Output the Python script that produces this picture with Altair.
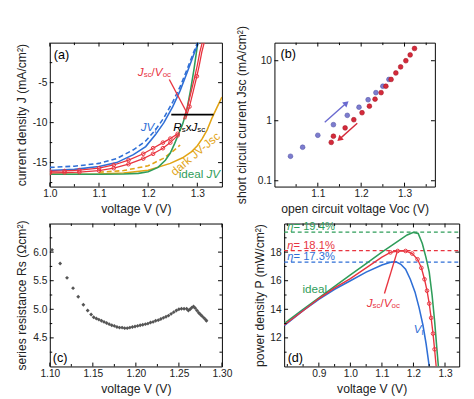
import altair as alt
import pandas as pd

FONT = "Liberation Sans"
TXT = "#222222"
BLUE = "#2f6fd6"
GREEN = "#2f9d5a"
RED = "#e8343f"
GOLD = "#e2a416"
PBLUE = "#7c7cce"
PRED = "#d42a3a"
GRAY = "#555555"

# ---------------- panel (a) data ----------------
a_v_blue = [1.0, 1.05, 1.1, 1.136, 1.17, 1.195, 1.215, 1.232, 1.25, 1.265, 1.28, 1.292, 1.302]
a_j_blue = [-16.0, -15.85, -15.5, -15.0, -14.0, -13.0, -11.5, -10.0, -8.0, -6.0, -3.6, -1.6, 0.0]
a_v_blue_d = [1.0, 1.05, 1.1, 1.136, 1.17, 1.195, 1.215, 1.232, 1.25, 1.265, 1.28, 1.29, 1.30]
a_j_blue_d = [-15.6, -15.45, -15.1, -14.5, -13.4, -12.3, -10.9, -9.4, -7.4, -5.5, -3.2, -1.6, 0.0]
a_v_green = [1.0, 1.1, 1.15, 1.18, 1.2, 1.22, 1.235, 1.245, 1.254, 1.262, 1.27, 1.278, 1.286, 1.293, 1.301]
a_j_green = [-16.45, -16.45, -16.42, -16.35, -16.15, -15.6, -14.7, -13.8, -12.6, -11.4, -10.2, -8.6, -6.0, -3.4, 0.0]
a_v_gold = [1.0, 1.1, 1.15, 1.2, 1.245, 1.27, 1.287, 1.3, 1.31, 1.32, 1.33, 1.34, 1.35]
a_j_gold = [-16.45, -16.42, -16.3, -15.95, -15.1, -14.4, -13.7, -12.9, -12.0, -10.9, -9.4, -8.1, -6.8]
a_v_gold_d = [1.1, 1.15, 1.2, 1.23, 1.25, 1.265]
a_j_gold_d = [-16.2, -16.0, -15.4, -14.5, -13.6, -12.8]
a_v_red = [1.0, 1.03, 1.06, 1.1, 1.13, 1.16, 1.19, 1.21, 1.23, 1.245, 1.26]
a_j_red1 = [-16.1, -16.05, -15.95, -15.7, -15.3, -14.7, -13.9, -13.2, -12.5, -12.0, -11.4]
a_j_red2 = [-16.3, -16.25, -16.2, -16.0, -15.7, -15.2, -14.5, -13.9, -13.2, -12.5, -11.6]
a_v_red_up1 = [1.272, 1.28, 1.288, 1.295, 1.30, 1.305, 1.31]
a_v_red_up2 = [1.276, 1.284, 1.292, 1.299, 1.304, 1.309, 1.314]
a_j_red_up = [-9.6, -8.0, -6.0, -4.2, -2.8, -1.2, 0.0]
a_rs_v = [1.247, 1.333]
a_rs_j = [-9.0, -9.0]
a_ptr_v = [1.243, 1.279]
a_ptr_j = [-4.6, -8.8]

# ---------------- panel (b) data ----------------
b_v_blue = [1.037, 1.065, 1.10, 1.136, 1.168, 1.195, 1.216, 1.234, 1.250, 1.264]
b_j_blue = [0.256, 0.362, 0.573, 0.86, 1.23, 1.68, 2.24, 2.94, 3.76, 4.88]
b_v_red = [1.131, 1.136, 1.163, 1.183, 1.202, 1.219, 1.232, 1.246, 1.257, 1.269, 1.280, 1.291, 1.303, 1.313, 1.323]
b_j_red = [0.436, 0.552, 0.76, 1.04, 1.36, 1.75, 2.29, 2.94, 3.76, 4.88, 6.25, 7.9, 10.0, 12.5, 16.0]
b_arrow_blue_v = [1.116, 1.166]
b_arrow_blue_j = [0.94, 1.97]
b_arrow_red_v = [1.191, 1.150]
b_arrow_red_j = [0.905, 0.494]

# ---------------- panel (c) data ----------------
c_v = [1.1026, 1.112, 1.120, 1.127, 1.133, 1.139, 1.144, 1.148,
       1.151, 1.154, 1.157, 1.160, 1.163, 1.166, 1.169, 1.172, 1.175, 1.178,
       1.181, 1.184, 1.187, 1.190, 1.193, 1.196, 1.199, 1.202, 1.205, 1.208,
       1.211, 1.214, 1.217, 1.220, 1.223, 1.226, 1.229, 1.232, 1.235, 1.238,
       1.241, 1.244, 1.247, 1.250, 1.253, 1.256, 1.259, 1.261, 1.263, 1.265,
       1.267, 1.269, 1.271, 1.273, 1.275, 1.277, 1.279, 1.281, 1.282]
c_rs = [6.04, 5.80, 5.55, 5.37, 5.22, 5.08, 4.98, 4.91,
        4.86, 4.84, 4.82, 4.80, 4.78, 4.76, 4.74, 4.72, 4.71, 4.69,
        4.68, 4.68, 4.67, 4.67, 4.68, 4.69, 4.70, 4.71, 4.72, 4.73,
        4.74, 4.75, 4.77, 4.78, 4.80, 4.81, 4.83, 4.85, 4.87, 4.89,
        4.92, 4.95, 4.98, 5.00, 5.01, 5.01, 5.01, 4.98, 5.00, 5.03,
        5.05, 5.02, 4.98, 4.94, 4.91, 4.88, 4.85, 4.82, 4.80]

# ---------------- panel (d) data ----------------
d_v_green = [0.79, 0.85, 0.9, 0.95, 1.0, 1.05, 1.1, 1.15, 1.18, 1.2, 1.215, 1.228, 1.24, 1.25, 1.259, 1.267, 1.274, 1.279]
d_p_green = [13.0, 14.0, 14.8, 15.6, 16.4, 17.2, 18.0, 18.75, 19.2, 19.38, 19.3, 18.6, 17.6, 16.6, 15.0, 13.2, 11.3, 10.0]
d_v_blue = [0.79, 0.85, 0.9, 0.95, 1.0, 1.05, 1.1, 1.13, 1.145, 1.16, 1.175, 1.19, 1.205, 1.218, 1.23, 1.24, 1.25]
d_p_blue = [12.85, 13.9, 14.7, 15.4, 16.0, 16.6, 17.1, 17.3, 17.32, 17.15, 16.8, 16.1, 15.2, 14.1, 12.9, 11.6, 10.0]
d_v_red = [0.79, 0.85, 0.9, 0.95, 1.0, 1.05, 1.1, 1.127, 1.15, 1.175, 1.196, 1.213, 1.225, 1.235, 1.243, 1.25, 1.256, 1.262, 1.267, 1.272]
d_p_red = [12.9, 13.9, 14.75, 15.5, 16.15, 16.9, 17.65, 17.98, 18.08, 18.08, 17.9, 17.5, 16.9, 16.1, 15.3, 14.4, 13.4, 12.3, 11.2, 10.0]
d_red_marker_v = [1.127, 1.15, 1.175, 1.196, 1.213, 1.225, 1.235, 1.243, 1.25, 1.256, 1.262, 1.267]
d_red_marker_p = [17.98, 18.08, 18.08, 17.9, 17.5, 16.9, 16.1, 15.3, 14.4, 13.4, 12.3, 11.2]
d_eta = [19.4, 18.1, 17.3]
d_eta_labels = [" = 19.4%", " = 18.1%", " = 17.3%"]
d_ptr_v = [1.108, 1.148]
d_ptr_p = [15.1, 18.0]


def df(**cols):
    return pd.DataFrame(cols)


W_CH = {"i": .222, "l": .222, "j": .222, "t": .278, "f": .278, " ": .278, "/": .278, ".": .278,
        "I": .278, "r": .333, "(": .333, ")": .333, "J": .5, "s": .5, "c": .5, "k": .5, "v": .5,
        "x": .5, "y": .5, "z": .5, "m": .833, "V": .667, "R": .722, "w": .722, "-": .333,
        "η": .556, "=": .584, "%": .889}


def tw(s, fs):
    return sum(W_CH.get(ch, .667 if ch.isupper() else .556) for ch in s) * fs


HYPHEN = "replace(datum.label, '\u2212', '-')"


def xaxis(title, values, fmt):
    return alt.Axis(title=title, values=values, format=fmt, ticks=False, domain=False, grid=False,
                    labelFlush=False, labelOverlap=False, labelPadding=2, titlePadding=4,
                    labelFontSize=10.5, titleFontSize=12.5, labelFont=FONT, titleFont=FONT,
                    labelColor=TXT, titleColor=TXT, titleFontWeight="normal")


def yaxis(title, values, fmt, tp=4):
    return alt.Axis(title=title, values=values, format=fmt, ticks=False, domain=False, grid=False,
                    labelFlush=False, labelOverlap=False, labelPadding=3, titlePadding=tp,
                    labelFontSize=10.5, titleFontSize=12.5, labelFont=FONT, titleFont=FONT,
                    labelColor=TXT, titleColor=TXT, titleFontWeight="normal", labelExpr=HYPHEN)


class Panel:
    def __init__(self, sx, sy, W, H, xa, ya):
        self.sx, self.sy, self.W, self.H = sx, sy, W, H
        self.xa, self.ya = xa, ya
        self.layers = []

    def X(self):
        return alt.X("x:Q", scale=self.sx, axis=self.xa)

    def Y(self):
        return alt.Y("y:Q", scale=self.sy, axis=self.ya)

    def enc(self):
        return dict(x=self.X(), y=self.Y())

    def line(self, xs, ys, color, width=1.6, dash=None):
        kw = dict(color=color, strokeWidth=width, clip=True)
        if dash:
            kw["strokeDash"] = dash
        self.layers.append(alt.Chart(df(x=xs, y=ys, o=list(range(len(xs))))).mark_line(**kw).encode(
            order="o:O", **self.enc()))

    def points(self, xs, ys, color, size=20, filled=True, shape="circle", stroke=None, sw=1.0, opacity=1.0):
        kw = dict(color=color, size=size, filled=filled, shape=shape, clip=True, opacity=opacity, strokeWidth=sw)
        if stroke:
            kw["stroke"] = stroke
        self.layers.append(alt.Chart(df(x=xs, y=ys)).mark_point(**kw).encode(**self.enc()))

    def arrowhead(self, x, y, color, angle):
        self.layers.append(alt.Chart(df(x=[x], y=[y])).mark_point(
            shape="triangle-up", filled=True, color=color, size=45, angle=angle, opacity=1).encode(**self.enc()))

    def hline(self, y, color, dash):
        self.layers.append(alt.Chart(df(y=[y])).mark_rule(color=color, strokeWidth=1.3, strokeDash=dash).encode(
            y=self.Y(), x=alt.value(0), x2=alt.value(self.W)))

    def text(self, x, y, s, color, fs=12, align="left", angle=0, style="normal", dx=0, dy=0):
        self.layers.append(alt.Chart(df(x=[x], y=[y], t=[s])).mark_text(
            align=align, baseline="middle", fontSize=fs, font=FONT, color=color, angle=angle,
            fontStyle=style, dx=dx, dy=dy).encode(text="t:N", **self.enc()))

    def rich(self, x, y, parts, color, fs=12):
        dx = 0.0
        for s, kind in parts:
            f = fs * 0.68 if kind == "s" else fs
            dy = fs * 0.3 if kind == "s" else 0
            self.text(x, y, s, color, fs=f, style="italic" if kind == "i" else "normal", dx=dx, dy=dy)
            dx += tw(s, f)

    def ticks(self, xmaj, xmin, ymaj, ymin, L=4, l=2.5):
        for vals, LL in ((xmaj, L), (xmin, l)):
            d = df(x=vals)
            for y1, y2 in ((self.H, self.H - LL), (0, LL)):
                self.layers.append(alt.Chart(d).mark_rule(color="black", strokeWidth=1).encode(
                    x=self.X(), y=alt.value(y1), y2=alt.value(y2)))
        for vals, LL in ((ymaj, L), (ymin, l)):
            if not vals:
                continue
            d = df(y=vals)
            for x1, x2 in ((0, LL), (self.W, self.W - LL)):
                self.layers.append(alt.Chart(d).mark_rule(color="black", strokeWidth=1).encode(
                    y=self.Y(), x=alt.value(x1), x2=alt.value(x2)))

    def chart(self):
        return alt.layer(*self.layers).properties(width=self.W, height=self.H)


# ---------------- panel (a) ----------------
pa = Panel(alt.Scale(domain=[1.0, 1.35], nice=False, zero=False),
           alt.Scale(domain=[-18, 0], nice=False, zero=False), 177, 148,
           xaxis("voltage V (V)", [1.0, 1.1, 1.2, 1.3], ".1f"),
           yaxis("current density J (mA/cm²)", [-15, -10, -5], "d"))
pa.line(a_v_gold, a_j_gold, GOLD)
pa.line(a_v_gold_d, a_j_gold_d, GOLD, dash=[5, 3])
pa.line(a_v_green, a_j_green, GREEN)
pa.line(a_v_blue_d, a_j_blue_d, BLUE, dash=[5, 3])
pa.line(a_v_blue, a_j_blue, BLUE)
pa.line(a_v_red, a_j_red1, RED, width=1.3)
pa.line(a_v_red, a_j_red2, RED, width=1.3)
pa.points(a_v_red, a_j_red1, RED, size=14, filled=False, sw=1.0)
pa.points(a_v_red, a_j_red2, RED, size=14, filled=False, sw=1.0)
pa.line(a_v_red_up1, a_j_red_up, RED, width=1.3)
pa.line(a_v_red_up2, a_j_red_up, RED, width=1.3)
pa.points(a_v_red_up2[1:5:2], a_j_red_up[1:5:2], RED, size=14, filled=False)
pa.line(a_rs_v, a_rs_j, "black", width=1.6)
pa.line(a_ptr_v, a_ptr_j, RED, width=1.4)
pa.text(1.008, -1.5, "(a)", "black", fs=13)
pa.rich(1.179, -3.65, [("J", "i"), ("sc", "s"), ("/", "n"), ("V", "i"), ("oc", "s")], RED)
pa.rich(1.185, -10.6, [("JV", "i"), ("l", "s")], BLUE)
pa.rich(1.251, -10.5, [("R", "i"), ("s", "s"), ("x", "n"), ("J", "i"), ("sc", "s")], "black")
pa.text(1.296, -13.9, "dark JV-Jsc", GOLD, fs=12, align="center", angle=320)
pa.rich(1.262, -16.4, [("ideal ", "n"), ("JV", "i")], GREEN)
pa.ticks([1.0, 1.1, 1.2, 1.3], [1.05, 1.15, 1.25],
         [-15, -10, -5], [-17.5, -12.5, -7.5, -2.5])

# ---------------- panel (b) ----------------
pb = Panel(alt.Scale(domain=[1.0, 1.37], nice=False, zero=False),
           alt.Scale(type="log", domain=[0.08, 20], nice=False), 165, 148,
           xaxis("open circuit voltage Voc (V)", [1.1, 1.2, 1.3], ".1f"),
           yaxis("short circuit current Jsc (mA/cm²)", [0.1, 1, 10], "~g", tp=9))
pb.points(b_v_blue, b_j_blue, PBLUE, size=24, stroke="#5858a8", sw=0.6)
pb.points(b_v_red, b_j_red, PRED, size=24, stroke="#a81828", sw=0.6)
pb.line(b_arrow_blue_v, b_arrow_blue_j, "#6a6ad0", width=1.4)
pb.arrowhead(b_arrow_blue_v[1], b_arrow_blue_j[1], "#6a6ad0", 49)
pb.line(b_arrow_red_v, b_arrow_red_j, PRED, width=1.4)
pb.arrowhead(b_arrow_red_v[1], b_arrow_red_j[1], PRED, 228)
pb.text(1.014, 12.8, "(b)", "black", fs=13)
pb.ticks([1.1, 1.2, 1.3], [1.05, 1.15, 1.25, 1.35], [0.1, 1, 10], [])

# ---------------- panel (c) ----------------
pc = Panel(alt.Scale(domain=[1.10, 1.30], nice=False, zero=False),
           alt.Scale(domain=[4.0, 6.5], nice=False, zero=False), 177, 147,
           xaxis("voltage V (V)", [1.10, 1.15, 1.20, 1.25, 1.30], ".2f"),
           yaxis("series resistance Rs (Ωcm²)", [4.5, 5.0, 5.5, 6.0], ".1f"))
pc.points(c_v, c_rs, GRAY, size=16, shape="diamond")
pc.text(1.1034, 4.15, "(c)", "black", fs=13)
pc.ticks([1.10, 1.15, 1.20, 1.25, 1.30], [1.125, 1.175, 1.225, 1.275],
         [4.5, 5.0, 5.5, 6.0], [4.25, 4.75, 5.25, 5.75, 6.25])

# ---------------- panel (d) ----------------
pd_ = Panel(alt.Scale(domain=[0.79, 1.345], nice=False, zero=False),
            alt.Scale(domain=[10, 20], nice=False, zero=False), 180, 147,
            xaxis("voltage V (V)", [0.9, 1.0, 1.1, 1.2, 1.3], ".1f"),
            yaxis("power density P (mW/cm²)", [12, 14, 16, 18], "d"))
for val, col in zip(d_eta, [GREEN, RED, BLUE]):
    pd_.hline(val, col, [4, 3])
pd_.line(d_v_green, d_p_green, GREEN)
pd_.line(d_v_blue, d_p_blue, BLUE)
pd_.line(d_v_red, d_p_red, RED, width=1.4)
pd_.points(d_red_marker_v, d_red_marker_p, RED, size=14, filled=False)
pd_.line(d_ptr_v, d_ptr_p, RED, width=1.4)
for val, lab, col in zip(d_eta, d_eta_labels, [GREEN, RED, BLUE]):
    pd_.rich(0.80, val + 0.32, [("η", "i"), (lab, "n")], col, fs=11.5)
pd_.text(0.848, 15.4, "ideal", GREEN, fs=12)
pd_.rich(1.052, 14.45, [("J", "i"), ("sc", "s"), ("/", "n"), ("V", "i"), ("oc", "s")], RED)
pd_.rich(1.201, 12.6, [("V", "i"), ("l", "s")], BLUE)
pd_.text(0.801, 10.6, "(d)", "black", fs=13)
pd_.ticks([0.9, 1.0, 1.1, 1.2, 1.3], [0.8, 0.85, 0.95, 1.05, 1.15, 1.25],
          [12, 14, 16, 18], [11, 13, 15, 17, 19])

row1 = alt.hconcat(pa.chart(), pb.chart(), spacing=12)
row2 = alt.hconcat(pc.chart(), pd_.chart(), spacing=20)
chart = alt.vconcat(row1, row2, spacing=3).properties(
    padding={"left": 7, "top": 11, "right": 5, "bottom": 5},
    background="white",
).configure_view(stroke="black", strokeWidth=1)

chart.save("out.html", embed_options={"renderer": "svg", "actions": False})
